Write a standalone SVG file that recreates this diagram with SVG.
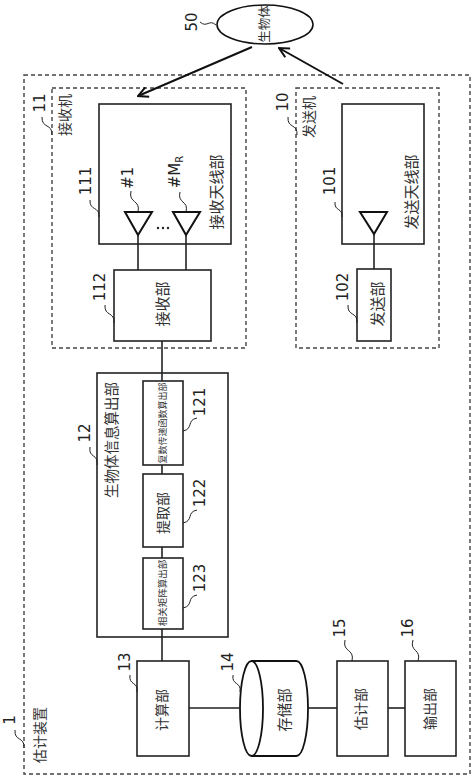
<svg xmlns="http://www.w3.org/2000/svg" width="474" height="779" viewBox="0 0 474 779">
<defs>
<style>
.bx{fill:#fff;stroke:#222;stroke-width:1.6}
.dsh{fill:none;stroke:#444;stroke-width:1.4;stroke-dasharray:4 3}
.ln{fill:none;stroke:#222;stroke-width:1.6}
.sq{fill:none;stroke:#222;stroke-width:1}
.tri{fill:#fff;stroke:#111;stroke-width:2}
.ar{fill:none;stroke:#111;stroke-width:2}
.d{font-family:"DejaVu Sans",sans-serif;font-size:15px;fill:#222;text-anchor:middle}
.c{font-family:"Noto Sans CJK SC","Noto Sans",sans-serif;font-size:14px;fill:#333;text-anchor:middle;dominant-baseline:central}
</style>
<marker id="ah" viewBox="0 0 12 12" refX="11" refY="6" markerWidth="12" markerHeight="12" markerUnits="userSpaceOnUse" orient="auto">
<path d="M1,1 L11,6 L1,11" fill="none" stroke="#111" stroke-width="2"/>
</marker>
</defs>
<rect width="474" height="779" fill="#fff"/>

<g id="n1">
<rect class="dsh" x="24" y="75" width="446" height="699"/>
<text class="d" transform="translate(15,720) rotate(-90)">1</text>
<text class="c" transform="translate(39,735) rotate(-90)">估计装置</text>
</g>

<g id="n50">
<ellipse cx="265" cy="24.5" rx="48" ry="19.5" fill="#fff" stroke="#111" stroke-width="1.6"/>
<text class="c" style="font-size:12.5px" transform="translate(263,24) rotate(-90)">生物体</text>
<text class="d" transform="translate(197,22) rotate(-90)">50</text>
</g>

<g id="n11">
<rect class="dsh" x="52" y="88" width="194" height="260"/>
<text class="d" transform="translate(45,103) rotate(-90)">11</text>
<text class="c" transform="translate(64,115) rotate(-90)">接收机</text>
</g>

<g id="n111">
<rect class="bx" x="99" y="104" width="132" height="140"/>
<text class="d" transform="translate(91,181) rotate(-90)">111</text>
<text class="c" style="font-size:15px" transform="translate(215,192) rotate(-90)">接收天线部</text>
<polygon class="tri" points="125,212 152,212 138,235"/>
<polygon class="tri" points="173,212 200,212 186,235"/>
<text class="d" transform="translate(133,178) rotate(-90)">#1</text>
<text class="d" transform="translate(180,172) rotate(-90)">#M<tspan font-size="10" dy="3">R</tspan></text>
<circle cx="158" cy="228" r="1.2" fill="#222"/>
<circle cx="163" cy="228" r="1.2" fill="#222"/>
<circle cx="168" cy="228" r="1.2" fill="#222"/>
</g>

<g id="n112">
<rect class="bx" x="114" y="270" width="97" height="71"/>
<text class="d" transform="translate(105,287) rotate(-90)">112</text>
<text class="c" style="font-size:15px" transform="translate(161,304) rotate(-90)">接收部</text>
</g>

<g id="n10">
<rect class="dsh" x="296" y="88" width="143" height="260"/>
<text class="d" transform="translate(288,102) rotate(-90)">10</text>
<text class="c" transform="translate(308,117) rotate(-90)">发送机</text>
</g>

<g id="n101">
<rect class="bx" x="342" y="104" width="82" height="140"/>
<text class="d" transform="translate(335,181) rotate(-90)">101</text>
<text class="c" style="font-size:15px" transform="translate(410,192) rotate(-90)">发送天线部</text>
<polygon class="tri" points="360,212 387,212 374,234"/>
</g>

<g id="n102">
<rect class="bx" x="357" y="269" width="34" height="72"/>
<text class="d" transform="translate(348,287) rotate(-90)">102</text>
<text class="c" style="font-size:15px" transform="translate(376,304) rotate(-90)">发送部</text>
</g>

<g id="n12">
<rect class="bx" x="97" y="373" width="131" height="264"/>
<text class="d" transform="translate(90,433) rotate(-90)">12</text>
<text class="c" style="font-size:14.5px" transform="translate(110,440) rotate(-90)">生物体信息算出部</text>
</g>

<g id="n121">
<rect class="bx" x="143" y="381" width="40" height="84"/>
<text class="c" style="font-size:9px" transform="translate(162,423) rotate(-90)">复数传递函数算出部</text>
<text class="d" transform="translate(205,402) rotate(-90)">121</text>
</g>

<g id="n122">
<rect class="bx" x="143" y="474" width="40" height="73"/>
<text class="c" transform="translate(162,513) rotate(-90)">提取部</text>
<text class="d" transform="translate(205,493) rotate(-90)">122</text>
</g>

<g id="n123">
<rect class="bx" x="143" y="558" width="40" height="71"/>
<text class="c" style="font-size:9.5px" transform="translate(162,593) rotate(-90)">相关矩阵算出部</text>
<text class="d" transform="translate(205,578) rotate(-90)">123</text>
</g>

<g id="n13">
<rect class="bx" x="137" y="661" width="52" height="95"/>
<text class="d" transform="translate(130,662) rotate(-90)">13</text>
<text class="c" transform="translate(161,710) rotate(-90)">计算部</text>
</g>

<g id="n14">
<path d="M251.5,661 L296.5,661 A11.5,47.5 0 0 1 296.5,756 L251.5,756" fill="#fff" stroke="#111" stroke-width="1.8"/>
<ellipse cx="251.5" cy="708.5" rx="11.5" ry="47.5" fill="#fff" stroke="#111" stroke-width="1.8"/>
<text class="d" transform="translate(233,662) rotate(-90)">14</text>
<text class="c" style="font-size:14.5px" transform="translate(283,710) rotate(-90)">存储部</text>
</g>

<g id="n15">
<rect class="bx" x="337" y="661" width="51" height="95"/>
<text class="d" transform="translate(345,628) rotate(-90)">15</text>
<text class="c" transform="translate(360,709) rotate(-90)">估计部</text>
</g>

<g id="n16">
<rect class="bx" x="405" y="661" width="51" height="95"/>
<text class="d" transform="translate(413,628) rotate(-90)">16</text>
<text class="c" transform="translate(429,709) rotate(-90)">输出部</text>
</g>

<g id="connectors">
<line class="ar" x1="252" y1="47" x2="138" y2="96" marker-end="url(#ah)"/>
<line class="ar" x1="343" y1="84" x2="279" y2="48" marker-end="url(#ah)"/>
<line class="ln" x1="138" y1="235" x2="138" y2="270"/>
<line class="ln" x1="186" y1="235" x2="186" y2="270"/>
<line class="ln" x1="374" y1="234" x2="374" y2="269"/>
<line class="ln" x1="162" y1="341" x2="162" y2="381"/>
<line class="ln" x1="162" y1="465" x2="162" y2="474"/>
<line class="ln" x1="162" y1="547" x2="162" y2="558"/>
<line class="ln" x1="162" y1="629" x2="162" y2="661"/>
<line class="ln" x1="189" y1="708" x2="240" y2="708"/>
<line class="ln" x1="308" y1="708" x2="337" y2="708"/>
<line class="ln" x1="388" y1="708" x2="405" y2="708"/>
</g>

<g id="leaders">
<path class="sq" d="M200,22 C207.1,28.3 208.9,18.7 216,25"/>
<path class="sq" d="M42,117 C41.6,129 52.4,123 52,135"/>
<path class="sq" d="M90,200 C89.4,211.2 99.6,205.8 99,217"/>
<path class="sq" d="M131,191 C128.2,203.6 140.8,199.4 138,212"/>
<path class="sq" d="M180,192 C177,203.8 189,200.2 186,212"/>
<path class="sq" d="M105,305 C104.1,316.7 114.9,311.3 114,323"/>
<path class="sq" d="M288,117 C287.1,128.7 297.9,123.3 297,135"/>
<path class="sq" d="M335,202 C334,211.6 343,207.4 342,217"/>
<path class="sq" d="M348,305 C347.1,316.7 357.9,311.3 357,323"/>
<path class="sq" d="M90,447 C88.1,458.1 98.9,453.9 97,465"/>
<path class="sq" d="M197,418 C186.1,420.3 193.9,428.7 183,431"/>
<path class="sq" d="M197,510 C186.1,512.3 193.9,520.7 183,523"/>
<path class="sq" d="M197,595 C186.1,597.3 193.9,605.7 183,608"/>
<path class="sq" d="M15,730 C14.1,741.7 24.9,736.3 24,748"/>
<path class="sq" d="M130,675 C128.4,685.6 138.6,681.4 137,692"/>
<path class="sq" d="M233,675 C231.4,685.6 241.6,681.4 240,692"/>
<path class="sq" d="M345,640 C342.2,652.6 354.8,648.4 352,661"/>
<path class="sq" d="M413,640 C409.2,652 421.8,649 418,661"/>
</g>
</svg>
